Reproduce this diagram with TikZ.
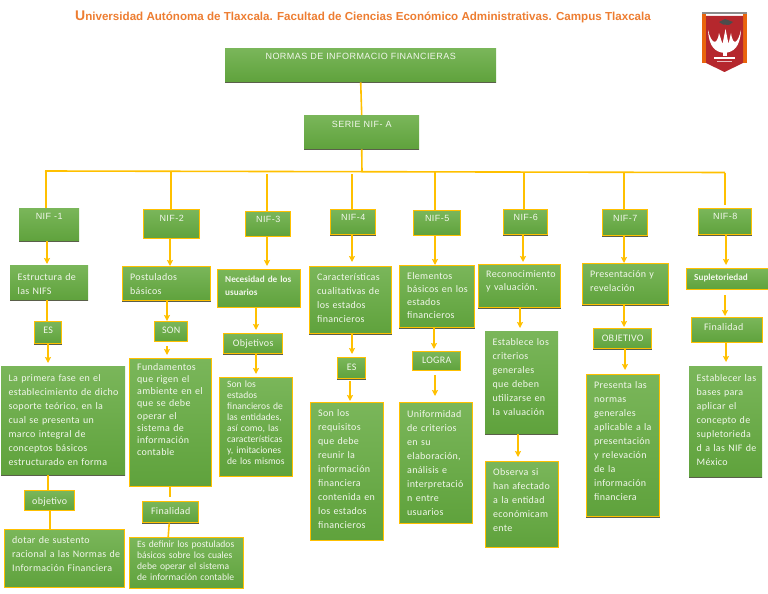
\documentclass[tikz,border=0pt]{standalone}
\usepackage{fontspec}
\setmainfont[LetterSpace=3]{Carlito}
\newfontfamily\tightfont{Carlito}
\newfontfamily\capsfont[LetterSpace=5]{Liberation Sans}
\newfontfamily\titlefont{Liberation Sans}
\usetikzlibrary{arrows.meta}
\definecolor{gold}{HTML}{FFC000}
\definecolor{leaftop}{HTML}{7AB65A}
\definecolor{leafbot}{HTML}{5FA23C}
\definecolor{basegray}{HTML}{5A5F4A}
\definecolor{titleorange}{HTML}{ED7D31}
\definecolor{paletxt}{HTML}{F2F7EC}
\definecolor{shieldred}{HTML}{B5272D}
\begin{document}
\begin{tikzpicture}[x=1pt,y=-1pt,
    panel/.style n args={3}{minimum width=#1pt, minimum height=#2pt, text width=#1pt, inner sep=0pt, anchor=north west,
        top color=leaftop, bottom color=leafbot, text=paletxt, font=\fontsize{10}{14}\selectfont,
        execute at begin node={\vbox to #2pt\bgroup\vskip\dimexpr #3pt+2pt\relax\leftskip=7.5pt\rightskip=-20pt plus 1fil\parindent=0pt\hyphenpenalty=10000 },
        execute at end node={\endgraf\vfil\egroup}},
    tagbox/.style n args={3}{panel={#1}{#2}{#3}, execute at begin node={\vskip-1pt\centering}},
    goldline/.style={draw=gold, line width=1.4pt},
    darkbase/.style={append after command={(\tikzlastnode.south west) edge[draw=basegray, line width=1.2pt] (\tikzlastnode.south east)}},
    smalltxt/.style={font=\tightfont\fontsize{9.6}{10.9}\selectfont},
    capstxt/.style={font=\capsfont\fontsize{9}{12}\selectfont},
    plainlink/.style={draw=gold, line width=1.6pt},
    arrowlink/.style={plainlink, -{Stealth[length=6pt,width=6pt,inset=1pt]}}
]
\path[use as bounding box] (0,0) rectangle (768,594);

\node[font=\titlefont\bfseries\fontsize{11.6}{13}\selectfont, text=titleorange, inner sep=0pt] (title) at (363,17) {{\fontsize{14}{13}\selectfont U}niversidad Autónoma de Tlaxcala. Facultad de Ciencias Económico Administrativas. Campus Tlaxcala};

\fill[color=orange!70!shieldred] (702,13) rectangle (706,63);
\fill[color=orange!70!shieldred] (743,13) rectangle (747,63);
\fill[color=shieldred] (706,16) -- (743,16) -- (743,63) -- (724.5,72) -- (706,63) -- cycle;
\fill[color=black!45] (702,12) rectangle (747,14);
\fill[color=white] (708,30) .. controls (709,47) and (715,52) .. (724.5,53) .. controls (734,52) and (740,47) .. (741,30) .. controls (738,43) and (733,47) .. (731,33) -- (728.5,44) -- (725.5,29) -- (722.5,44) -- (719,33) .. controls (717,47) and (711,43) .. (708,30) -- cycle;
\fill[color=white] (723,44) rectangle (727,56);
\fill[color=white] (714,57) rectangle (735,59);
\fill[color=white!70!shieldred] (717,61) rectangle (732,62.5);
\fill[color=black!70] (719,22) -- (725,19) -- (733,22) -- (729,25) -- (723,24.5) -- cycle;

\node[panel={271}{34}{3.5}, capstxt, execute at begin node={\centering}, darkbase] (normas) at (225,48) {NORMAS DE INFORMACIO FINANCIERAS};
\node[panel={115}{34}{4.5}, capstxt, execute at begin node={\centering}, darkbase] (serie) at (304,115) {SERIE NIF- A};

\node[tagbox={60}{33}{4}, capstxt, darkbase] (nif1) at (19,208) {NIF -1};
\node[tagbox={56}{29}{5}, capstxt, goldline] (nif2) at (143,209) {NIF-2};
\node[tagbox={45}{25}{4}, capstxt, goldline] (nif3) at (245,211) {NIF-3};
\node[tagbox={45}{25}{4}, capstxt, goldline, darkbase] (nif4) at (330,209) {NIF-4};
\node[tagbox={47}{25}{4}, capstxt, goldline] (nif5) at (413,210) {NIF-5};
\node[tagbox={44}{25}{4}, capstxt, goldline, darkbase] (nif6) at (503,209) {NIF-6};
\node[tagbox={45}{26}{5}, capstxt, goldline, darkbase] (nif7) at (602,209) {NIF-7};
\node[tagbox={53}{26}{4}, capstxt, goldline, darkbase] (nif8) at (698,208) {NIF-8};

\node[panel={78}{35}{6}, darkbase] (estructura) at (10,265) {Estructura de\\las NIFS};
\node[tagbox={27}{22}{4}, goldline, darkbase] (es1) at (34,321) {ES};
\node[panel={124}{109}{6}, darkbase] (primera) at (1,366) {La primera fase en el\\establecimiento de dicho\\soporte teórico, en la\\cual se presenta un\\marco integral de\\conceptos básicos\\estructurado en forma};
\node[tagbox={50}{20}{6}, goldline] (objetivo1) at (24,490) {objetivo};
\node[panel={120}{58}{5}, goldline] (dotar) at (4,529) {dotar de sustento\\racional a las Normas de\\Información Financiera};

\node[panel={88}{34}{5}, goldline, darkbase] (postulados) at (122,266) {Postulados\\básicos};
\node[tagbox={33}{20}{4.5}, goldline] (son) at (154,321) {SON};
\node[panel={82}{128}{3}, goldline, font=\fontsize{10}{12.1}\selectfont] (fundamentos) at (129,358) {Fundamentos\\que rigen el\\ambiente en el\\que se debe\\operar el\\sistema de\\información\\contable};
\node[tagbox={56}{21}{4.5}, goldline, darkbase] (finalidad2) at (142,501) {Finalidad};
\node[panel={114}{51}{1.5}, goldline, smalltxt] (definir) at (129,537) {Es definir los postulados\\básicos sobre los cuales\\debe operar el sistema\\de información contable};

\node[panel={83}{38}{4}, goldline, font=\tightfont\bfseries\fontsize{9.2}{13}\selectfont] (necesidad) at (217,269) {Necesidad de los\\usuarios};
\node[tagbox={59}{20}{5}, goldline, darkbase] (objetivos) at (223,333) {Objetivos};
\node[panel={73}{99}{1.5}, goldline, smalltxt] (sonlos) at (219,377) {Son los\\estados\\financieros de\\las entidades,\\así como, las\\características\\y, imitaciones\\de los mismos};

\node[panel={82}{67}{5}, goldline, darkbase] (caracter) at (309,266) {Características\\cualitativas de\\los estados\\financieros};
\node[tagbox={28}{21}{5}, goldline, darkbase] (es4) at (337,357) {ES};
\node[panel={73}{138}{5}, goldline] (requisitos) at (310,402) {Son los\\requisitos\\que debe\\reunir la\\información\\financiera\\contenida en\\los estados\\financieros};

\node[panel={75}{62}{4.5}, goldline, darkbase, font=\fontsize{10}{13.2}\selectfont] (elementos) at (399,265) {Elementos\\básicos en los\\estados\\financieros};
\node[tagbox={48}{19}{4}, goldline] (logra) at (412,351) {LOGRA};
\node[panel={73}{121}{6}, goldline] (uniformidad) at (399,402) {Uniformidad\\de criterios\\en su\\elaboración,\\análisis e\\interpretació\\n entre\\usuarios};

\node[panel={82}{43}{4}, goldline, darkbase, font=\fontsize{10}{13.3}\selectfont] (reconocimiento) at (478,264) {Reconocimiento\\y valuación.};
\node[panel={73}{103}{5}, darkbase] (establece) at (485,331) {Establece los\\criterios\\generales\\que deben\\utilizarse en\\la valuación};
\node[panel={73}{86}{5}, goldline] (observa) at (485,461) {Observa si\\han afectado\\a la entidad\\económicam\\ente};

\node[panel={86}{41}{5}, goldline, darkbase] (presentacion) at (582,263) {Presentación y\\revelación};
\node[tagbox={58}{20}{5}, goldline, darkbase] (objetivo7) at (593,328) {OBJETIVO};
\node[panel={73}{142}{5}, goldline, darkbase] (presenta) at (586,374) {Presenta las\\normas\\generales\\aplicable a la\\presentación\\y relevación\\de la\\información\\financiera};

\node[panel={82}{21}{3}, goldline, font=\tightfont\bfseries\fontsize{9.2}{12}\selectfont] (supletoriedad) at (686,268) {Supletoriedad};
\node[tagbox={71}{25}{5}, goldline] (finalidad8) at (691,317) {\hspace*{-7pt}Finalidad};
\node[panel={73}{111}{6}, darkbase] (establecer) at (689,366) {Establecer las\\bases para\\aplicar el\\concepto de\\supletorieda\\d a las NIF de\\México};

\coordinate (hubleft) at (45,171);
\coordinate (hubright) at (725,172.5);
\coordinate (hubmid) at (362,172);
\draw[plainlink] (hubleft) -- (hubright);
\draw[plainlink] (normas.south) -- (serie.north);
\draw[plainlink] (serie.south) -- (hubmid);

\foreach \a/\x/\s in {nif1/46/0, nif2/171/0, nif3/267/2, nif4/352/2, nif5/435/0, nif6/524/0, nif7/624/0} {
    \draw[plainlink, shorten <=\s pt] (\x,0 |- hubmid) -- (\x,0 |- \a.north);
}
\draw[plainlink, shorten >=3pt] (hubright) -- (725,0 |- nif8.north);

\foreach \a/\b/\x/\s/\e in {nif1/estructura/47/0/1, es1/primera/48/0/3, nif2/postulados/170/0/0, postulados/son/167/0/0, son/fundamentos/167/4/3,
    nif3/necesidad/267/0/3, necesidad/objetivos/256/0/3, objetivos/sonlos/256/0/3, nif4/caracter/352/0/4, caracter/es4/352/0/3, es4/requisitos/350/2/1,
    nif5/elementos/435/0/0, elementos/logra/434/0/2, logra/uniformidad/435/4/6, nif6/reconocimiento/523/0/2, reconocimiento/establece/520/0/3, establece/observa/518/0/4,
    nif7/presentacion/624/0/0, presentacion/objetivo7/624/0/1, objetivo7/presenta/625/0/4, nif8/supletoriedad/726/0/3, supletoriedad/finalidad8/725/5/1, finalidad8/establecer/726/0/4} {
    \draw[arrowlink, shorten <=\s pt, shorten >=\e pt] (\x,0 |- \a.south) -- (\x,0 |- \b.north);
}

\foreach \a/\b/\x/\s/\e in {estructura/es1/47/0/0, primera/objetivo1/48/0/0, objetivo1/dotar/50/0/0, fundamentos/finalidad2/170/0/4} {
    \draw[plainlink, shorten <=\s pt, shorten >=\e pt] (\x,0 |- \a.south) -- (\x,0 |- \b.north);
}
\draw[plainlink] ([xshift=-1.5pt]finalidad2.south) -- ([xshift=-18.5pt]definir.north);
\end{tikzpicture}
\end{document}
